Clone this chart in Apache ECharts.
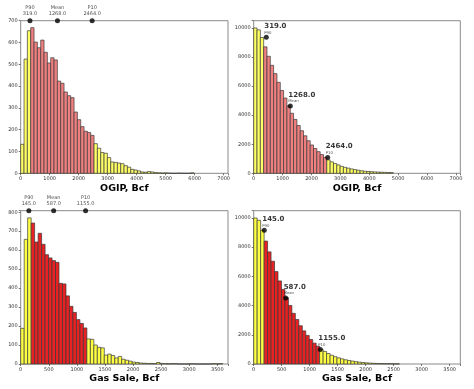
<!DOCTYPE html>
<html><head><meta charset="utf-8">
<script src="https://cdn.jsdelivr.net/npm/echarts@6/dist/echarts.min.js"></script>
<style>html,body{margin:0;padding:0;background:#fff}#c{width:474px;height:389px}</style>
</head><body><div id="c"></div>
<script>
// ---- data ----
const pLabels = ['P90', 'Mean', 'P10'];
const ogipP = [319.0, 1268.0, 2464.0];
const gasP = [145.0, 587.0, 1155.0];

const ogipBinWidth = 115;
const ogipCounts = [133,524,654,668,602,576,611,555,506,530,520,423,413,373,356,347,281,246,214,193,187,174,
  136,115,95,92,72,52,50,47,44,35,28,18,15,11,6,5,8,6,3,2,1,2,1,0,0,1,0,0,0,2];
const ogipExceed = [10000,9870,9345,8700,8050,7430,6860,6260,5700,5180,4640,4130,3710,3290,2930,2580,2240,1950,1710,1490,1290,1100,
  920,790,670,575,480,410,355,300,255,210,175,145,125,110,95,85,75,65,55,50];
const ogipMarkX = [436, 1267, 2561];
const ogipMarkY = [9360, 4630, 1080];

const gasBinWidth = 62;
const gasCounts = [188,657,770,743,643,689,631,576,559,545,536,425,422,359,304,272,234,214,190,
  132,130,100,88,85,47,52,45,32,40,25,20,15,10,8,5,4,3,3,2,8,3,2,1,2,2,0,0,0,1,1,0,0,0,0,0,2,1,2];
const gasExceed = [10000,9840,9170,8420,7680,7040,6330,5690,5110,4550,4010,3470,3050,2620,2270,1960,1680,1430,1220,
  1000,860,720,600,500,420,350,290,240,200,160,125,100,80,62,50,40,33,28,24,20,14,11];
const gasMarkX = [189, 571, 1190];
const gasMarkY = [9153, 4521, 985];

const ogipXMax = 7150, gasXMax = 3690;
const ogipCountMax = 700, gasCountMax = 808, exceedMax = 10500;

// ---- styles ----
const FONT = 'DejaVu Sans';
const YEL_TOP = '#ffff66', RED_TOP = '#f08080';
const YEL_BOT = '#ffff44', RED_BOT = '#e82222';

function binData(counts, w) {
  return counts.map((c, i) => [i * w, (i + 1) * w, c]);
}
function histSeries(counts, w, P, xi, yel, red) {
  const lo = Math.floor(P[0] / w), hi = Math.floor(P[2] / w);
  return {
    type: 'custom', xAxisIndex: xi, yAxisIndex: xi,
    encode: { x: [0, 1], y: 2 },
    data: binData(counts, w),
    renderItem: function (params, api) {
      const i = params.dataIndex;
      const p0 = api.coord([api.value(0), api.value(2)]);
      const p1 = api.coord([api.value(1), 0]);
      const isRed = i > lo && i <= hi;
      return {
        type: 'rect',
        shape: { x: p0[0], y: p0[1], width: p1[0] - p0[0], height: p1[1] - p0[1] },
        style: { fill: isRed ? red : yel, stroke: '#3a3a3a', lineWidth: 0.7 }
      };
    }
  };
}
function topMarkers(P, yMax, xi) {
  return {
    type: 'scatter', xAxisIndex: xi, yAxisIndex: xi, clip: false,
    symbolSize: 5, itemStyle: { color: '#000' },
    data: P.map(v => [v, yMax]),
    label: {
      show: true, position: 'top', distance: 1,
      fontFamily: FONT, fontSize: 5, lineHeight: 6.4, color: '#222',
      formatter: p => pLabels[p.dataIndex] + '\n' + P[p.dataIndex].toFixed(1)
    },
    z: 10
  };
}
function sideMarkers(P, mx, my, xi) {
  return {
    type: 'scatter', xAxisIndex: xi, yAxisIndex: xi, clip: false,
    symbolSize: 5, itemStyle: { color: '#000' },
    data: mx.map((v, i) => [v, my[i]]),
    label: {
      show: true, position: [0.5, -12.5], align: 'left', verticalAlign: 'top',
      fontFamily: FONT,
      formatter: p => '{v|' + P[p.dataIndex].toFixed(1) + '}\n{s|' + pLabels[p.dataIndex] + '}',
      rich: {
        v: { fontFamily: FONT, fontSize: 7, fontWeight: 'bold', lineHeight: 8, color: '#000' },
        s: { fontFamily: FONT, fontSize: 3.8, lineHeight: 4.5, color: '#222' }
      }
    },
    z: 10
  };
}
function xAx(gi, max, interval, name) {
  return {
    type: 'value', gridIndex: gi, min: 0, max: max, interval: interval,
    name: name, nameLocation: 'middle', nameGap: 10,
    nameTextStyle: { fontFamily: FONT, fontSize: 9.5, fontWeight: 'bold', color: '#000', verticalAlign: 'top' },
    axisLine: { show: false },
    axisTick: { show: true, length: 2, lineStyle: { color: '#555', width: 0.8 } },
    axisLabel: { fontFamily: FONT, fontSize: 5, color: '#333', margin: 3,
      formatter: v => (v % interval === 0 ? String(v) : '') },
    splitLine: { show: false }
  };
}
function yAx(gi, max, interval) {
  return {
    type: 'value', gridIndex: gi, min: 0, max: max, interval: interval,
    axisLine: { show: false },
    axisTick: { show: true, length: 2, lineStyle: { color: '#555', width: 0.8 } },
    axisLabel: { fontFamily: FONT, fontSize: 5, color: '#333', margin: 3,
      formatter: v => (v % interval === 0 ? String(v) : '') },
    splitLine: { show: false }
  };
}
const gridStyle = { show: true, borderColor: '#8a8a8a', borderWidth: 1, backgroundColor: 'transparent' };

const chart = echarts.init(document.getElementById('c'), null, { renderer: 'canvas' });
chart.setOption({
  animation: false,
  backgroundColor: '#fff',
  grid: [
    Object.assign({ left: 20.7, top: 20.7, width: 207.3, height: 152.6 }, gridStyle),
    Object.assign({ left: 253.7, top: 20.7, width: 206.6, height: 152.6 }, gridStyle),
    Object.assign({ left: 20.7, top: 210.7, width: 207.3, height: 153.3 }, gridStyle),
    Object.assign({ left: 253.7, top: 210.7, width: 206.6, height: 153.3 }, gridStyle)
  ],
  xAxis: [
    xAx(0, ogipXMax, 1000, 'OGIP, Bcf'),
    xAx(1, ogipXMax, 1000, 'OGIP, Bcf'),
    xAx(2, gasXMax, 500, 'Gas Sale, Bcf'),
    xAx(3, gasXMax, 500, 'Gas Sale, Bcf')
  ],
  yAxis: [
    yAx(0, ogipCountMax, 100),
    yAx(1, exceedMax, 2000),
    yAx(2, gasCountMax, 100),
    yAx(3, exceedMax, 2000)
  ],
  series: [
    histSeries(ogipCounts, ogipBinWidth, ogipP, 0, YEL_TOP, RED_TOP),
    histSeries(ogipExceed, ogipBinWidth, ogipP, 1, YEL_TOP, RED_TOP),
    histSeries(gasCounts, gasBinWidth, gasP, 2, YEL_BOT, RED_BOT),
    histSeries(gasExceed, gasBinWidth, gasP, 3, YEL_BOT, RED_BOT),
    topMarkers(ogipP, ogipCountMax, 0),
    sideMarkers(ogipP, ogipMarkX, ogipMarkY, 1),
    topMarkers(gasP, gasCountMax, 2),
    sideMarkers(gasP, gasMarkX, gasMarkY, 3)
  ]
});
</script></body></html>
